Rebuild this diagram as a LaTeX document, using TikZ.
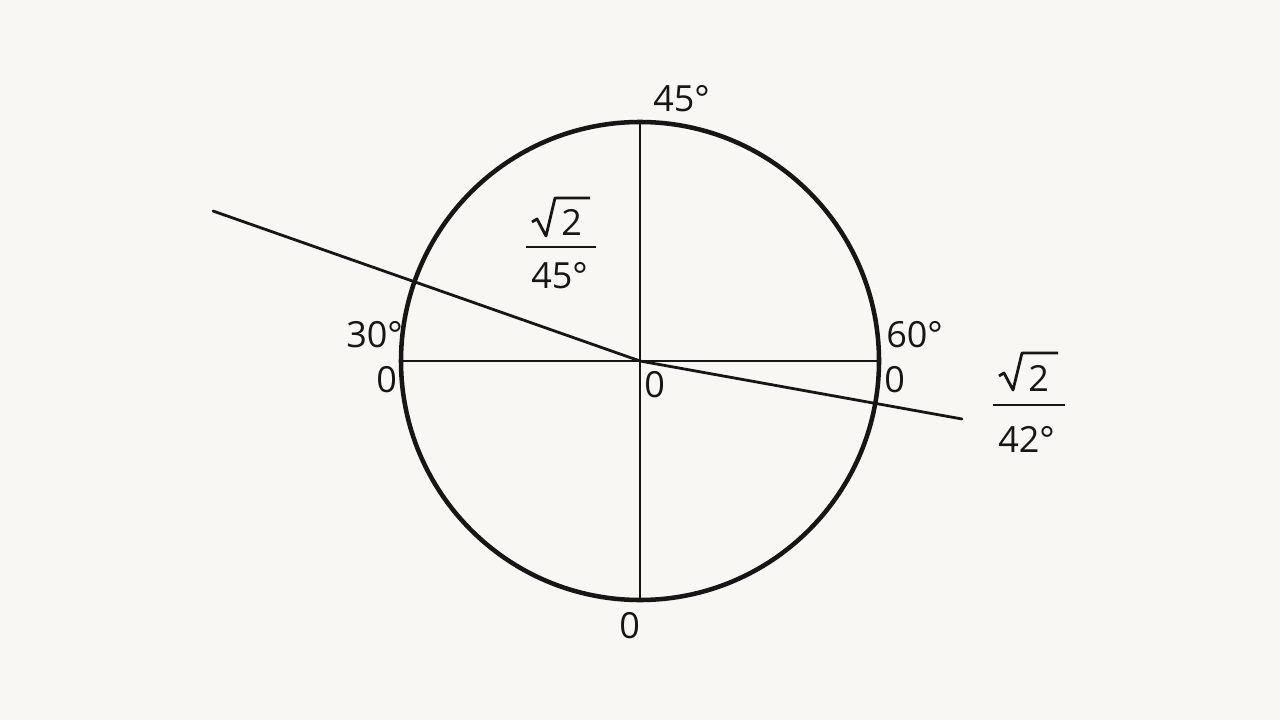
\documentclass[tikz,border=0pt]{standalone}
\usepackage{fontspec}
\setmainfont{Open Sans}
\definecolor{bg}{RGB}{248,247,244}
\definecolor{ink}{RGB}{22,22,22}
\begin{document}
\begin{tikzpicture}[x=0.75pt,y=-0.75pt,
  lbl/.style={inner sep=0,anchor=base west,text=ink,font=\fontsize{27}{30}\selectfont},
  nlbl/.style={inner sep=0,anchor=base west,text=ink,font=\fontsize{27}{30}\selectfont},
  thin/.style={draw=ink,line width=2.1pt},
  rim/.style={draw=ink,line width=3.4pt}]
\fill[bg] (0,0) rectangle (1280,720);
\useasboundingbox (0,0) rectangle (1280,720);
\coordinate (O) at (640,361);
\coordinate (T) at (640,122);
\coordinate (B) at (640,600);
\coordinate (L) at (401,361);
\coordinate (R) at (879,361);
\coordinate (P1) at (213,211);
\coordinate (P2) at (962,419);
\draw[thin] (T) -- (B);
\draw[thin] (L) -- (R);
\draw[thin,line cap=round] (P1) -- (O) -- (P2);
\draw[rim] (O) circle[radius=239*0.75pt];
% labels
\node[lbl] (t45) at (653,112) {45°};
\node[lbl] (l30) at (346,347) {30°};
\node[lbl] (l0) at (376,392) {0};
\node[lbl] (c0) at (644,397) {0};
\node[lbl] (r60) at (886,347) {60°};
\node[lbl] (r0) at (884,392) {0};
\node[lbl] (b0) at (619,638) {0};
% left fraction
\node[nlbl] (n1) at (561,236) {2};
\draw[thin,line join=round] (532,222) -- (537,219) -- (546,236) -- (555,198) -- (590,198);
\coordinate (f1a) at (526,247);
\coordinate (f1b) at (596,247);
\draw[thin] (f1a) -- (f1b);
\node[lbl] (d1) at (531,288) {45°};
% right fraction
\node[nlbl] (n2) at (1028,391) {2};
\draw[thin,line join=round] (999,376) -- (1004,373) -- (1013,390) -- (1022,353) -- (1058,353);
\coordinate (f2a) at (993,405);
\coordinate (f2b) at (1065,405);
\draw[thin] (f2a) -- (f2b);
\node[lbl] (d2) at (998,452) {42°};
\end{tikzpicture}
\end{document}
